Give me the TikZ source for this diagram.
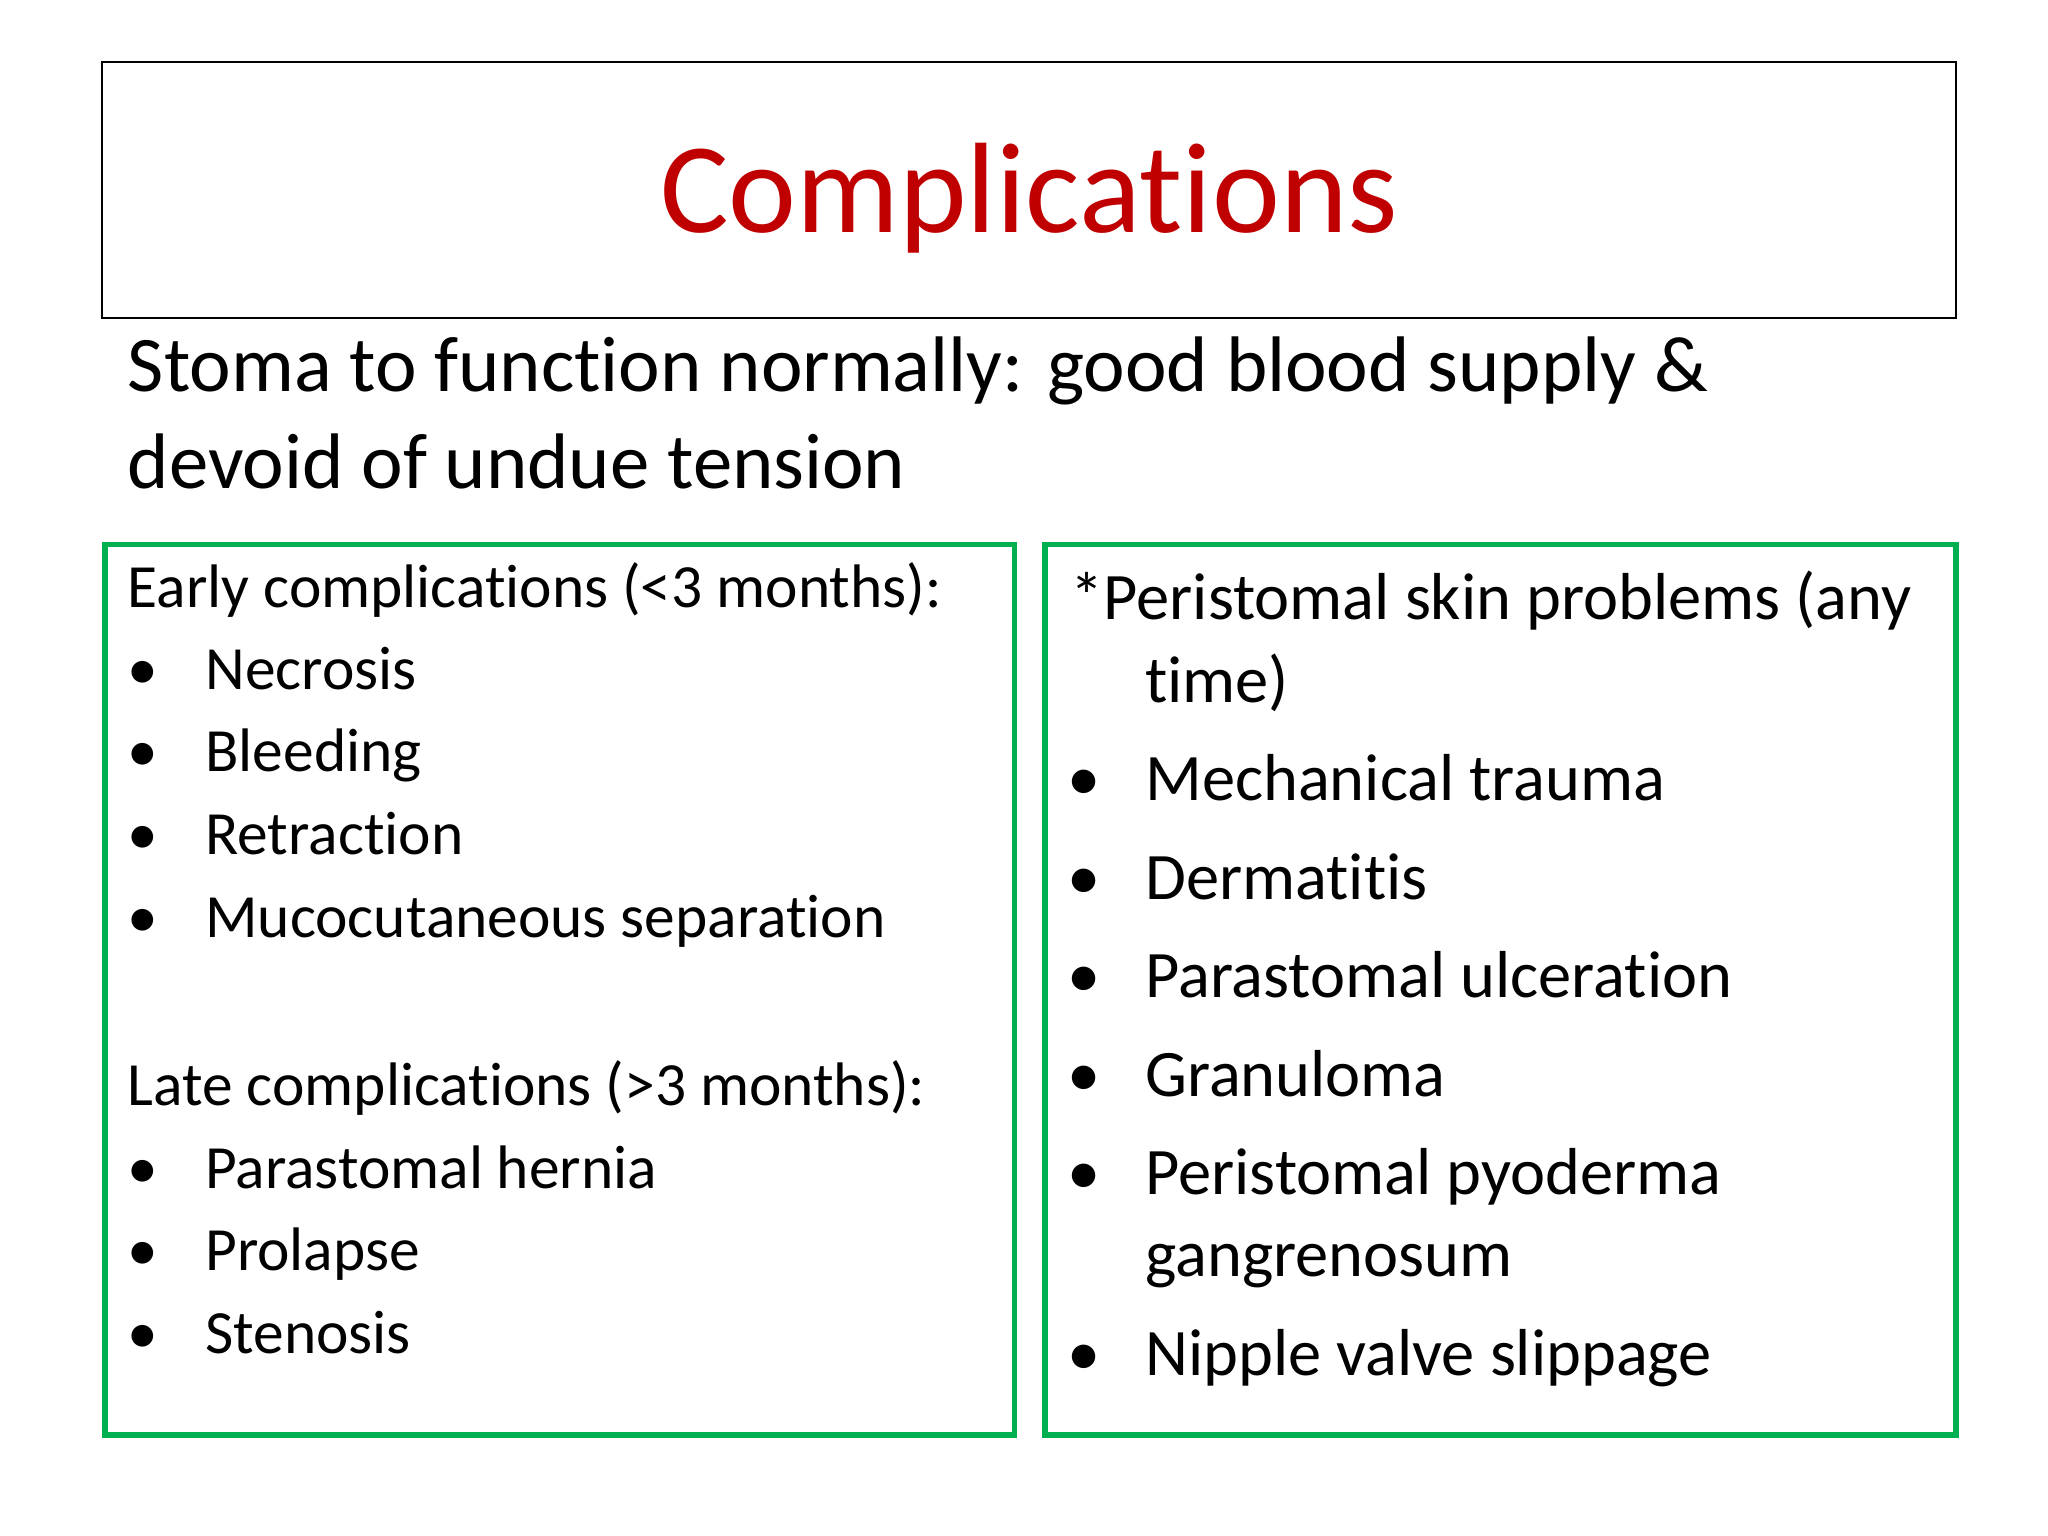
\documentclass[tikz,border=0pt]{standalone}
\usepackage{fontspec}
\setmainfont{Carlito}[Ligatures=NoCommon]
\definecolor{tred}{HTML}{C00000}
\definecolor{bgreen}{HTML}{00B050}
\begin{document}
\begin{tikzpicture}[x=0.5pt,y=-0.5pt,
  txt/.style={anchor=base west,inner sep=0pt},
  lf/.style={txt,font=\fontsize{23.4}{28}\selectfont},
  rf/.style={txt,font=\fontsize{25.3}{30}\selectfont},
  gbox/.style={draw=bgreen,line width=2pt}]
\fill[white] (0,0) rectangle (1560,1170);
\useasboundingbox (0,0) rectangle (1560,1170);
\draw[line width=0.8pt] (78,47) rectangle (1490,242);
\node[anchor=base,inner sep=0pt,text=tred,font=\fontsize{49}{58}\selectfont] (title) at (784,177) {Complications};
\node[txt,font=\fontsize{30}{35}\selectfont] (s1) at (97,298) {Stoma to function normally: good blood supply \&};
\node[txt,font=\fontsize{30}{35}\selectfont] (s2) at (97,372) {devoid of undue tension};
\draw[gbox] (80,415) rectangle (773,1093);
\draw[gbox] (796,415) rectangle (1490,1093);
\node[lf] (e) at (97,463) {Early complications (<3 months):};
\foreach \t/\y [count=\i] in {Necrosis/525,Bleeding/588,Retraction/651,Mucocutaneous separation/714,Parastomal hernia/905,Prolapse/968,Stenosis/1031}{
  \node[lf] (lb\i) at (97,\y) {•};
  \node[lf] (lt\i) at (156,\y) {\t};
}
\node[lf] (l) at (97,842) {Late complications (>3 months):};
\node[rf] (r0) at (815,472) {*Peristomal skin problems (any};
\node[rf] (r0b) at (872,535) {time)};
\foreach \t/\y [count=\i] in {Mechanical trauma/610,Dermatitis/685,Parastomal ulceration/760,Granuloma/835,Peristomal pyoderma/910,Nipple valve slippage/1048}{
  \node[rf] (rb\i) at (813,\y) {•};
  \node[rf] (rt\i) at (872,\y) {\t};
}
\node[rf] (rg) at (872,972) {gangrenosum};
\end{tikzpicture}
\end{document}
